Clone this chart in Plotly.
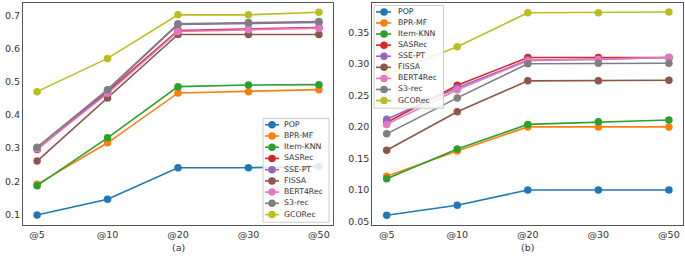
import plotly.graph_objects as go

cutoffs = ["@5", "@10", "@20", "@30", "@50"]
models = ["POP", "BPR-MF", "Item-KNN", "SASRec", "SSE-PT", "FISSA", "BERT4Rec", "S3-rec", "GCORec"]
colors = ["#1f77b4", "#ff7f0e", "#2ca02c", "#d62728", "#9467bd",
          "#8c564b", "#e377c2", "#7f7f7f", "#bcbd22"]

# panel (a)
pop_a = [0.099, 0.146, 0.241, 0.241, 0.245]
bprmf_a = [0.191, 0.316, 0.466, 0.470, 0.476]
itemknn_a = [0.187, 0.331, 0.485, 0.490, 0.491]
sasrec_a = [0.296, 0.470, 0.654, 0.658, 0.663]
ssept_a = [0.301, 0.474, 0.672, 0.675, 0.678]
fissa_a = [0.261, 0.451, 0.642, 0.642, 0.642]
bert4rec_a = [0.298, 0.465, 0.651, 0.656, 0.661]
s3rec_a = [0.303, 0.476, 0.674, 0.678, 0.681]
gcorec_a = [0.470, 0.570, 0.701, 0.701, 0.709]

# panel (b)
pop_b = [0.060, 0.076, 0.100, 0.100, 0.100]
bprmf_b = [0.122, 0.162, 0.200, 0.200, 0.200]
itemknn_b = [0.118, 0.165, 0.204, 0.208, 0.211]
sasrec_b = [0.207, 0.266, 0.310, 0.310, 0.310]
ssept_b = [0.212, 0.262, 0.306, 0.307, 0.310]
fissa_b = [0.163, 0.224, 0.273, 0.273, 0.274]
bert4rec_b = [0.204, 0.259, 0.305, 0.307, 0.310]
s3rec_b = [0.189, 0.246, 0.300, 0.301, 0.301]
gcorec_b = [0.283, 0.327, 0.381, 0.381, 0.382]

series_a = [pop_a, bprmf_a, itemknn_a, sasrec_a, ssept_a, fissa_a, bert4rec_a, s3rec_a, gcorec_a]
series_b = [pop_b, bprmf_b, itemknn_b, sasrec_b, ssept_b, fissa_b, bert4rec_b, s3rec_b, gcorec_b]

yticks_a = [0.1, 0.2, 0.3, 0.4, 0.5, 0.6, 0.7]
yticks_b = [0.05, 0.10, 0.15, 0.20, 0.25, 0.30, 0.35]

W, H = 685, 258
FONT = "DejaVu Sans"
TXT = "#333333"
FRAME = "#555555"

xs = list(range(len(cutoffs)))
fig = go.Figure()

for name, col, ya, yb in zip(models, colors, series_a, series_b):
    fig.add_trace(go.Scatter(x=xs, y=ya, mode="lines+markers", name=name,
                             line=dict(color=col, width=1.6),
                             marker=dict(color=col, size=7.5),
                             xaxis="x", yaxis="y", showlegend=False))
    fig.add_trace(go.Scatter(x=xs, y=yb, mode="lines+markers", name=name,
                             line=dict(color=col, width=1.6),
                             marker=dict(color=col, size=7.5),
                             xaxis="x2", yaxis="y2", showlegend=False))

# custom compact legends in a pixel-space overlay subplot
def add_legend(bx0, bx1, by0, by1, y_first, step, lx0, lx1, mx, tx):
    fig.add_trace(go.Scatter(x=[bx0, bx1, bx1, bx0, bx0], y=[by0, by0, by1, by1, by0],
                             mode="lines", fill="toself",
                             fillcolor="rgba(255,255,255,0.85)",
                             line=dict(color="#cccccc", width=1),
                             xaxis="x3", yaxis="y3", showlegend=False, hoverinfo="skip"))
    for i, (name, col) in enumerate(zip(models, colors)):
        yy = y_first + i * step
        fig.add_trace(go.Scatter(x=[lx0, lx1], y=[yy, yy], mode="lines",
                                 line=dict(color=col, width=1.6),
                                 xaxis="x3", yaxis="y3", showlegend=False, hoverinfo="skip"))
        fig.add_trace(go.Scatter(x=[mx], y=[yy], mode="markers",
                                 marker=dict(color=col, size=7.5),
                                 xaxis="x3", yaxis="y3", showlegend=False, hoverinfo="skip"))
    fig.add_trace(go.Scatter(x=[tx] * len(models),
                             y=[y_first + i * step for i in range(len(models))],
                             mode="text", text=models, textposition="middle right",
                             textfont=dict(family=FONT, size=7.8, color=TXT),
                             xaxis="x3", yaxis="y3", showlegend=False, hoverinfo="skip"))

add_legend(263, 329, 119.5, 224, 125.7, 11.32, 265, 279, 272, 284)
add_legend(374, 443.5, 5.5, 109, 12.0, 11.17, 376, 391, 384, 398)

ax_common = dict(showgrid=False, zeroline=False, showline=True, mirror=True,
                 linecolor=FRAME, linewidth=1, ticks="",
                 tickfont=dict(family=FONT, size=9.5, color=TXT))

y_dom = [1 - 227 / H, 1 - 3 / H]
fig.update_layout(
    width=W, height=H, autosize=False,
    margin=dict(l=0, r=0, t=0, b=0),
    paper_bgcolor="white", plot_bgcolor="rgba(0,0,0,0)",
    showlegend=False, hovermode=False,
    xaxis=dict(domain=[23 / W, 333 / W], range=[-0.2, 4.2], tickvals=xs, ticktext=cutoffs,
               anchor="y", **ax_common),
    yaxis=dict(domain=y_dom, range=[0.068, 0.7367], tickvals=yticks_a,
               ticktext=[f"{v:.1f}" for v in yticks_a], anchor="x", **ax_common),
    xaxis2=dict(domain=[372.3 / W, 683.3 / W], range=[-0.204, 4.204], tickvals=xs,
                ticktext=cutoffs, anchor="y2", **ax_common),
    yaxis2=dict(domain=y_dom, range=[0.0442, 0.3964], tickvals=yticks_b,
                ticktext=[f"{v:.2f}" for v in yticks_b], anchor="x2", **ax_common),
    xaxis3=dict(domain=[0, 1], range=[0, W], visible=False, anchor="y3", fixedrange=True),
    yaxis3=dict(domain=[0, 1], range=[H, 0], visible=False, anchor="x3", fixedrange=True),
    annotations=[
        dict(text="(a)", x=178 / W, y=1 - 249.5 / H, xref="paper", yref="paper",
             xanchor="center", yanchor="middle",
             showarrow=False, font=dict(family=FONT, size=9.5, color=TXT)),
        dict(text="(b)", x=527.8 / W, y=1 - 249.5 / H, xref="paper", yref="paper",
             xanchor="center", yanchor="middle",
             showarrow=False, font=dict(family=FONT, size=9.5, color=TXT)),
    ],
)

fig.write_html("out.html", config={"displayModeBar": False, "staticPlot": True},
               post_script="document.documentElement.style.margin='0';"
                           "document.body.style.margin='0';"
                           "document.body.style.overflow='hidden';")
